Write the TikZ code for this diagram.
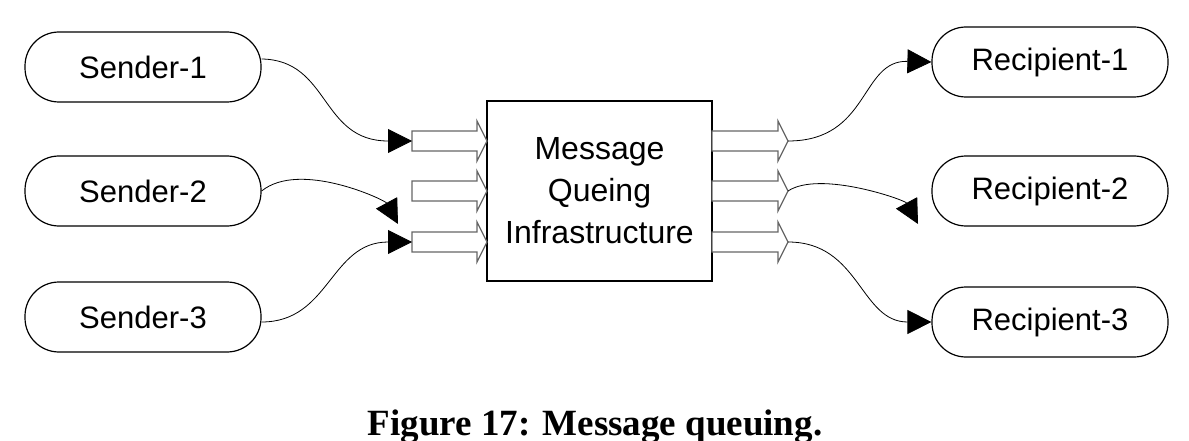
\documentclass[tikz,border=0pt]{standalone}
\usepackage{fontspec}
\setmainfont{Liberation Sans}
\newfontfamily\capfont{Liberation Serif}
\usetikzlibrary{arrows.meta}
\begin{document}
\begin{tikzpicture}[x=1pt,y=-1pt,
  pill/.style={draw,line width=1.2pt,rounded corners=34pt,minimum width=236pt,minimum height=70pt,font=\fontsize{31}{34}\selectfont},
  conn/.style={line width=0.8pt,-{Triangle[length=24pt,width=24pt]}},
  fat/.style={draw=black!60,line width=1.2pt,fill=white}]
\useasboundingbox (0,0) rectangle (1189,441);
\node[pill] (s1) at (143,67) {Sender-1};
\node[pill] (s2) at (143,191) {Sender-2};
\node[pill] (s3) at (143,317) {Sender-3};
\node[pill] (r1) at (1050,62) {Recipient-1};
\node[pill] (r2) at (1050,191) {Recipient-2};
\node[pill] (r3) at (1050,322) {Recipient-3};
\node[draw,line width=1.2pt,minimum width=225pt,minimum height=180pt,align=center,font=\fontsize{32}{42}\selectfont] (mq) at (599.5,191) {Message\\Queing\\Infrastructure};
\foreach \y/\n in {141/a,191/b,242/c}{
  \draw[fat] (412,\y-10) -- (477,\y-10) -- (477,\y-20) -- (487,\y) -- (477,\y+20) -- (477,\y+10) -- (412,\y+10) -- cycle;
  \coordinate (in\n) at (412,\y);
  \draw[fat] (712,\y-10) -- (778,\y-10) -- (778,\y-20) -- (788,\y) -- (778,\y+20) -- (778,\y+10) -- (712,\y+10) -- cycle;
  \coordinate (out\n) at (788,\y);
}
\coordinate (in2) at (398,224);
\coordinate (r2in) at (918,224);
\draw[conn] (s2.east) .. controls (300,160) and (385,200) .. (in2);
\draw[conn] (s1.east) ++(0,-8) .. controls (330,60) and (320,141) .. (ina);
\draw[conn] (s3.east) ++(0,5) .. controls (330,322) and (330,242) .. (inc);
\draw[conn] (outa) .. controls (870,141) and (860,60) .. (r1.west);
\draw[conn] (outb) .. controls (820,170) and (905,200) .. (r2in);
\draw[conn] (outc) .. controls (860,242) and (860,322) .. (r3.west);
\node[font=\capfont\bfseries\fontsize{37}{40}\selectfont] (cap) at (595,427) {Figure 17: Message queuing.};
\end{tikzpicture}
\end{document}
